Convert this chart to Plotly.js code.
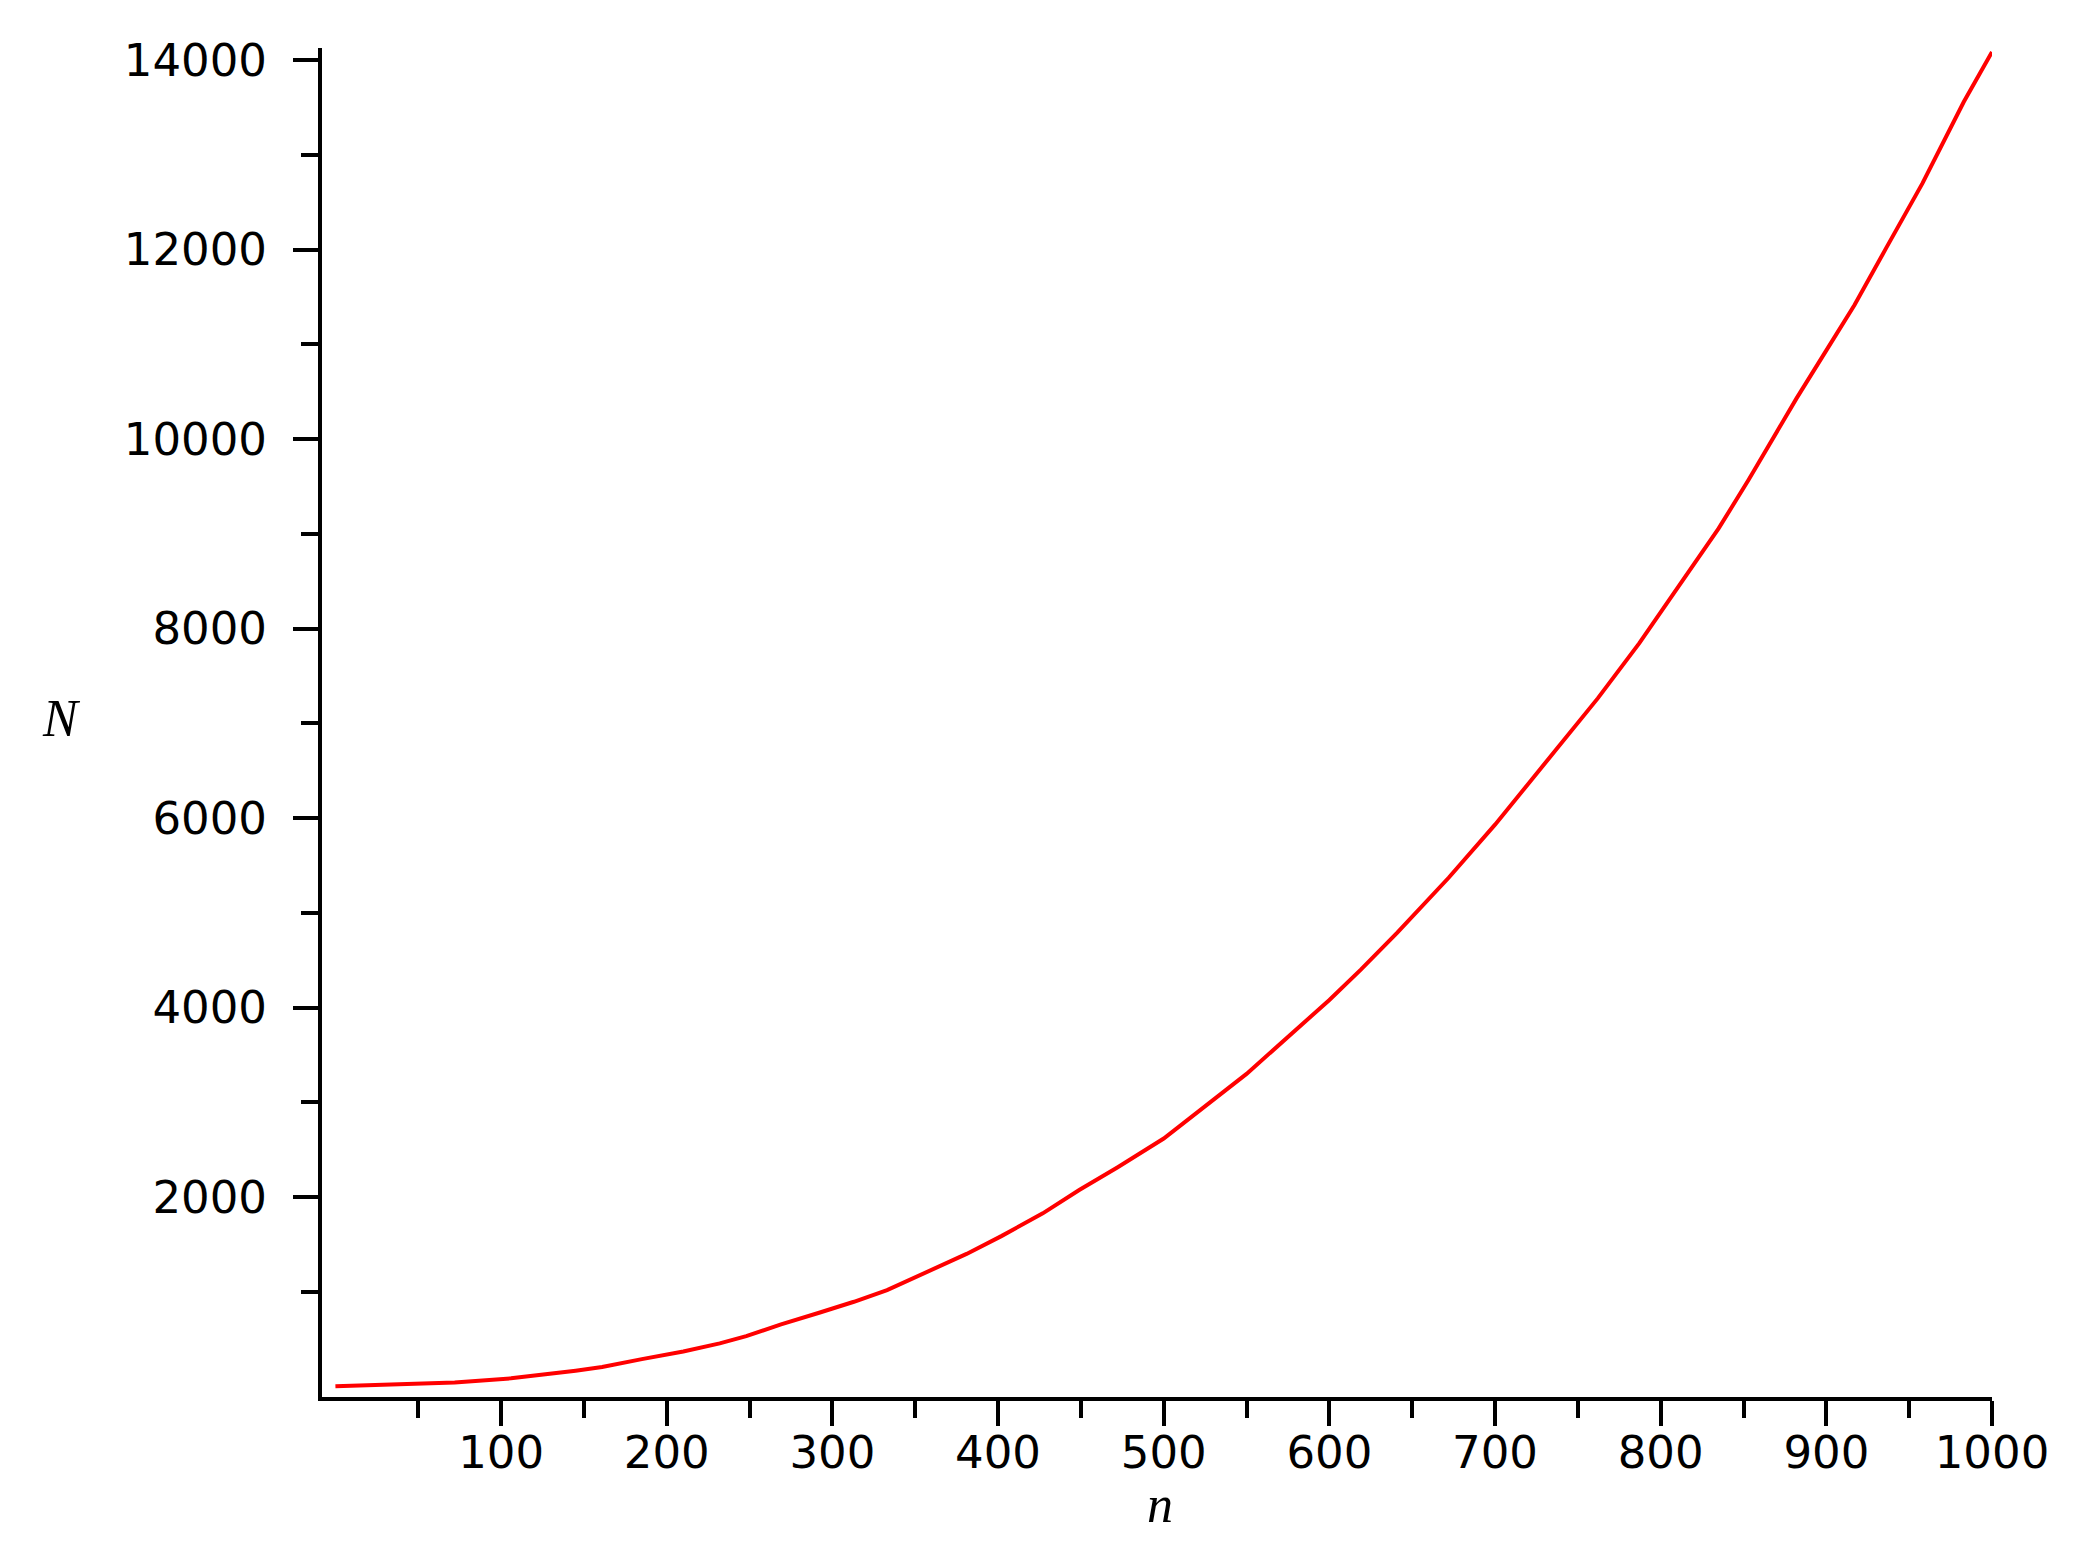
<!DOCTYPE html>
<html>
<head>
<meta charset="utf-8">
<script src="https://cdn.plot.ly/plotly-3.0.1.min.js"></script>
<style>
  html, body { margin: 0; padding: 0; background: #fff; }
  #plot { width: 2088px; height: 1542px; }
</style>
</head>
<body>
<div id="plot"></div>
<script>
// values
const nVals = [0, 50, 72, 106, 126, 145, 161, 172, 185, 210, 232, 248, 269, 292, 313, 333, 355, 381, 402, 427, 449, 472, 500, 550, 600, 619, 641, 658, 672, 700, 750, 762, 787, 800, 812, 835, 853, 882, 900, 917, 936, 958, 983, 1000];
const NVals = [3, 25, 44, 87, 125, 167, 206, 248, 290, 371, 456, 533, 656, 779, 895, 1018, 1190, 1400, 1588, 1828, 2074, 2313, 2618, 3300, 4080, 4400, 4790, 5100, 5370, 5930, 7010, 7263, 7844, 8173, 8477, 9057, 9567, 10429, 10936, 11414, 12012, 12698, 13560, 14084];

const xMajor = [100, 200, 300, 400, 500, 600, 700, 800, 900, 1000];
const xMinor = [50, 150, 250, 350, 450, 550, 650, 750, 850, 950];
const yMajor = [2000, 4000, 6000, 8000, 10000, 12000, 14000];
const yMinor = [1000, 3000, 5000, 7000, 9000, 11000, 13000];

function drawPlot() {
  const trace = {
    x: nVals,
    y: NVals,
    mode: 'lines',
    type: 'scatter',
    line: { color: '#ff0000', width: 4 },
    hoverinfo: 'x+y'
  };

  const tickFont = { family: 'DejaVu Sans, sans-serif', size: 45, color: '#000' };
  const titleFont = { family: 'Liberation Serif, serif', size: 52, color: '#000' };

  const layout = {
    width: 2088,
    height: 1542,
    paper_bgcolor: '#fff',
    plot_bgcolor: '#fff',
    showlegend: false,
    margin: { l: 322, r: 96, t: 48, b: 145 },
    xaxis: {
      range: [-8.1, 1000],
      showgrid: false,
      zeroline: false,
      showline: true,
      linecolor: '#000',
      linewidth: 4,
      tickmode: 'array',
      tickvals: xMajor,
      ticktext: xMajor.map(String),
      ticks: 'outside',
      ticklen: 25,
      tickwidth: 4,
      tickcolor: '#000',
      tickfont: tickFont,
      ticklabelstandoff: -12,
      minor: { tickmode: 'array', tickvals: xMinor, ticks: 'outside', ticklen: 17, tickwidth: 4, tickcolor: '#000', showgrid: false }
    },
    yaxis: {
      range: [-110, 14127],
      showgrid: false,
      zeroline: false,
      showline: true,
      linecolor: '#000',
      linewidth: 4,
      tickmode: 'array',
      tickvals: yMajor,
      ticktext: yMajor.map(String),
      ticks: 'outside',
      ticklen: 25,
      tickwidth: 4,
      tickcolor: '#000',
      tickfont: tickFont,
      ticklabelstandoff: 17,
      minor: { tickmode: 'array', tickvals: yMinor, ticks: 'outside', ticklen: 17, tickwidth: 4, tickcolor: '#000', showgrid: false }
    },
    annotations: [
      {
        text: '<i>N</i>',
        xref: 'paper', yref: 'paper',
        x: -0.1557, y: 0.5026,
        xanchor: 'center', yanchor: 'middle',
        showarrow: false,
        font: titleFont
      },
      {
        text: '<i>n</i>',
        xref: 'paper', yref: 'paper',
        x: 0.5018, y: -0.080,
        xanchor: 'center', yanchor: 'middle',
        showarrow: false,
        font: titleFont
      }
    ]
  };

  Plotly.newPlot('plot', [trace], layout, { displayModeBar: false, staticPlot: true });
}

if (document.readyState === 'loading') {
  document.addEventListener('DOMContentLoaded', drawPlot);
} else {
  drawPlot();
}
</script>
</body>
</html>
